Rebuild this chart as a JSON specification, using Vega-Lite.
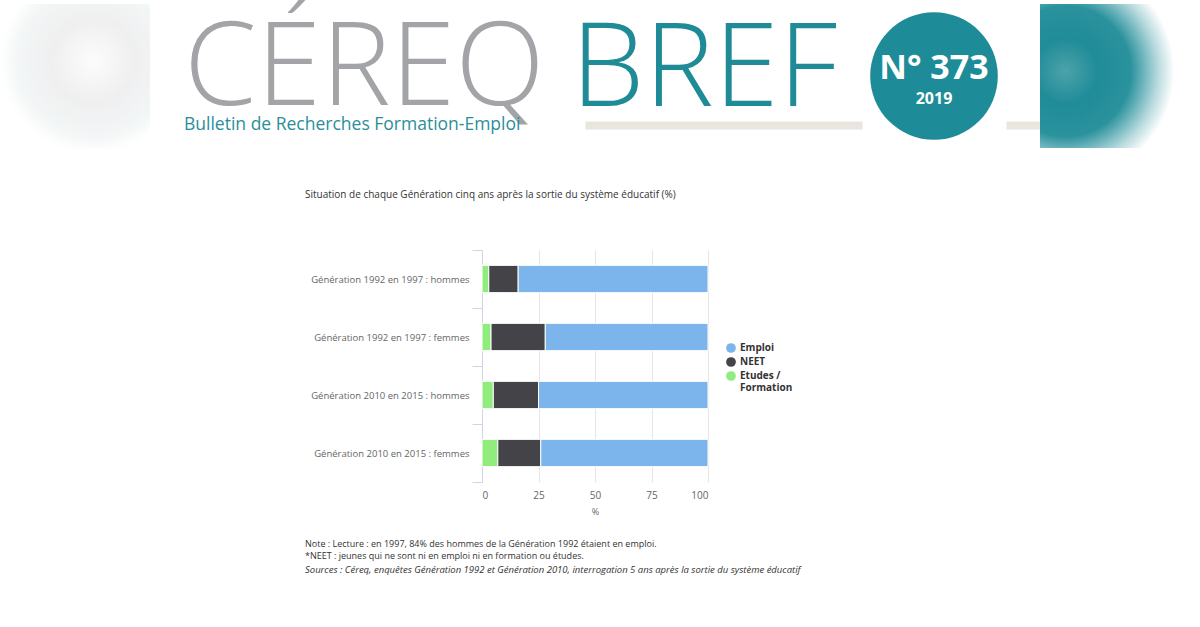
{
  "$schema": "https://vega.github.io/schema/vega-lite/v6.json",
  "background": "white",
  "padding": {"left": 0, "top": 4, "right": 0, "bottom": 0},
  "config": {"view": {"stroke": null}, "font": "Open Sans"},
  "datasets": {
    "situation": [
      {"generation": "Génération 1992 en 1997 : hommes", "situation": "Etudes / Formation", "pourcentage": 3},
      {"generation": "Génération 1992 en 1997 : hommes", "situation": "NEET", "pourcentage": 13},
      {"generation": "Génération 1992 en 1997 : hommes", "situation": "Emploi", "pourcentage": 84},
      {"generation": "Génération 1992 en 1997 : femmes", "situation": "Etudes / Formation", "pourcentage": 4},
      {"generation": "Génération 1992 en 1997 : femmes", "situation": "NEET", "pourcentage": 24},
      {"generation": "Génération 1992 en 1997 : femmes", "situation": "Emploi", "pourcentage": 72},
      {"generation": "Génération 2010 en 2015 : hommes", "situation": "Etudes / Formation", "pourcentage": 5},
      {"generation": "Génération 2010 en 2015 : hommes", "situation": "NEET", "pourcentage": 20},
      {"generation": "Génération 2010 en 2015 : hommes", "situation": "Emploi", "pourcentage": 75},
      {"generation": "Génération 2010 en 2015 : femmes", "situation": "Etudes / Formation", "pourcentage": 7},
      {"generation": "Génération 2010 en 2015 : femmes", "situation": "NEET", "pourcentage": 19},
      {"generation": "Génération 2010 en 2015 : femmes", "situation": "Emploi", "pourcentage": 74}
    ],
    "badge": [{"numero": "N° 373", "annee": "2019"}],
    "vide": [{}]
  },
  "spacing": 42,
  "resolve": {"legend": {"color": "independent"}},
  "vconcat": [
    {
      "spacing": 0,
      "hconcat": [
        {
          "width": 150, "height": 144,
          "data": {"name": "vide"},
          "mark": {"type": "rect", "clip": true, "color": {"gradient": "radial", "x1": 0.62, "y1": 0.4, "r1": 0, "x2": 0.62, "y2": 0.4, "r2": 0.62,
            "stops": [{"offset": 0, "color": "#fcfcfc"}, {"offset": 0.45, "color": "#efeff0"}, {"offset": 0.8, "color": "#f3f6f6"}, {"offset": 1, "color": "#ffffff"}]}},
          "encoding": {}
        },
        {
          "width": 421, "height": 144,
          "title": {"text": "CÉREQ", "subtitle": "Bulletin de Recherches Formation-Emploi", "anchor": "start", "frame": "group", "dx": 34,
            "fontSize": 117, "fontWeight": 300, "font": "Open Sans", "color": "#a3a4a7",
            "subtitleColor": "#2a8e9a", "subtitleFontSize": 17.5, "subtitleFont": "Open Sans", "subtitlePadding": -14, "offset": -131},
          "data": {"name": "vide"},
          "mark": {"type": "text"},
          "encoding": {"text": {"value": ""}}
        },
        {
          "width": 277, "height": 144,
          "title": {"text": "BREF", "anchor": "start", "frame": "group", "dx": -14,
            "fontSize": 117, "fontWeight": 300, "font": "Open Sans", "color": "#1f8b97", "offset": -127},
          "data": {"name": "vide"},
          "mark": {"type": "text"},
          "encoding": {
            "text": {"value": ""},
            "x": {"datum": 0, "type": "quantitative", "scale": {"domain": [0, 1]},
              "axis": {"orient": "bottom", "offset": -23, "domainWidth": 8, "domainColor": "#e8e6df", "domainCap": "butt", "ticks": false, "labels": false, "title": null, "grid": false}}
          }
        },
        {
          "width": 144, "height": 144,
          "data": {"name": "badge"},
          "layer": [
            {"mark": {"type": "point", "filled": true, "color": "#1e8c98", "opacity": 1, "size": 16286}, "encoding": {}},
            {"mark": {"type": "text", "color": "white", "fontSize": 34, "fontWeight": "bold", "font": "Open Sans", "dy": -7}, "encoding": {"text": {"field": "numero"}}},
            {"mark": {"type": "text", "color": "white", "fontSize": 16, "fontWeight": "bold", "font": "Open Sans", "dy": 23}, "encoding": {"text": {"field": "annee"}}}
          ]
        },
        {
          "width": 34, "height": 144,
          "data": {"name": "vide"},
          "mark": {"type": "text"},
          "encoding": {
            "text": {"value": ""},
            "x": {"datum": 0, "type": "quantitative", "scale": {"domain": [0, 1]},
              "axis": {"orient": "bottom", "offset": -23, "domainWidth": 8, "domainColor": "#e8e6df", "domainCap": "butt", "ticks": false, "labels": false, "title": null, "grid": false}}
          }
        },
        {
          "width": 160, "height": 144,
          "data": {"name": "vide"},
          "mark": {"type": "rect", "clip": true, "color": {"gradient": "radial", "x1": 0.16, "y1": 0.47, "r1": 0, "x2": 0.16, "y2": 0.47, "r2": 0.68,
            "stops": [{"offset": 0, "color": "#4da2aa"}, {"offset": 0.3, "color": "#1f8c98"}, {"offset": 0.6, "color": "#2a929d"}, {"offset": 0.85, "color": "#b8dade"}, {"offset": 1, "color": "#ffffff"}]}},
          "encoding": {}
        }
      ]
    },
    {
      "title": {"text": ["Note : Lecture : en 1997, 84% des hommes de la Génération 1992 étaient en emploi.", "*NEET : jeunes qui ne sont ni en emploi ni en formation ou études."],
        "subtitle": "Sources : Céreq, enquêtes Génération 1992 et Génération 2010, interrogation 5 ans après la sortie du système éducatif",
        "orient": "bottom", "anchor": "start", "frame": "bounds", "dx": 305, "offset": 24,
        "fontSize": 9, "fontWeight": "normal", "color": "#333333", "lineHeight": 12,
        "subtitleFontSize": 9.5, "subtitleFontStyle": "italic", "subtitleColor": "#333333", "subtitlePadding": 4},
      "resolve": {"legend": {"color": "independent"}},
      "spacing": 0,
      "hconcat": [
        {
          "width": 302, "height": 1,
          "data": {"name": "vide"},
          "mark": {"type": "text"},
          "encoding": {"text": {"value": ""}}
        },
        {
          "width": 226, "height": 232,
          "data": {"name": "situation"},
          "title": {"text": "Situation de chaque Génération cinq ans après la sortie du système éducatif (%)",
            "anchor": "start", "frame": "group", "dx": -177, "offset": 45, "fontSize": 10, "fontWeight": "normal", "color": "#333333"},
          "transform": [{"calculate": "indexof(['Etudes / Formation', 'NEET', 'Emploi'], datum.situation)", "as": "rang"}],
          "mark": {"type": "bar", "height": {"band": 0.47}, "stroke": "white", "strokeWidth": 1},
          "encoding": {
            "y": {"field": "generation", "type": "nominal", "title": null,
              "sort": ["Génération 1992 en 1997 : hommes", "Génération 1992 en 1997 : femmes", "Génération 2010 en 2015 : hommes", "Génération 2010 en 2015 : femmes"],
              "scale": {"paddingInner": 0, "paddingOuter": 0},
              "axis": {"tickBand": "extent", "domainColor": "#ccd6eb", "tickColor": "#ccd6eb", "tickSize": 10, "labelPadding": 3,
                "labelFontSize": 9.5, "labelFont": "Open Sans", "labelColor": "#666666", "minExtent": 180, "labelLimit": 300, "grid": false}},
            "x": {"field": "pourcentage", "type": "quantitative", "stack": "zero",
              "scale": {"domain": [0, 100], "nice": false},
              "axis": {"values": [0, 25, 50, 75, 100], "grid": true, "gridColor": "#e6e6e6", "domain": false, "ticks": false,
                "labelPadding": 8, "labelFontSize": 10, "labelFont": "Open Sans", "labelColor": "#666666",
                "title": "%", "titleFontSize": 9, "titleFontWeight": "normal", "titleColor": "#666666", "titlePadding": 7}},
            "color": {"field": "situation", "type": "nominal",
              "scale": {"domain": ["Emploi", "NEET", "Etudes / Formation"], "range": ["#7cb5ec", "#434348", "#90ed7d"]},
              "legend": {"title": null, "orient": "none", "legendX": 244, "legendY": 93, "padding": 0, "symbolType": "circle", "symbolSize": 95,
                "symbolStrokeWidth": 0, "labelFontSize": 10, "labelFontWeight": "bold", "labelColor": "#333333", "labelFont": "Open Sans",
                "rowPadding": 4,
                "labelExpr": "datum.label == 'Etudes / Formation' ? ['Etudes /', 'Formation'] : datum.label"}},
            "order": {"field": "rang", "type": "quantitative"}
          }
        }
      ]
    }
  ]
}
